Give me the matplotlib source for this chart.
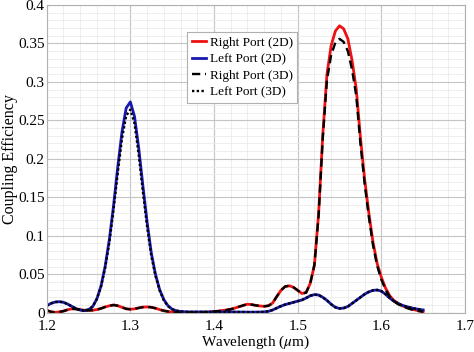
import matplotlib
matplotlib.use("Agg")
import matplotlib.pyplot as plt
from matplotlib.ticker import MultipleLocator, FuncFormatter
import numpy as np

# wavelength grid (um), 0.005 steps from 1.20 to 1.65
wavelength = np.round(np.arange(1.2, 1.6501, 0.005), 3)

right_2d = [0.003, 0.0012, 0.0005, 0.001, 0.002, 0.0038, 0.005, 0.0048, 0.004, 0.0032,
            0.003, 0.0032, 0.004, 0.0055, 0.0075, 0.009, 0.010, 0.009, 0.007, 0.005,
            0.0045, 0.005, 0.0062, 0.0072, 0.0075, 0.007, 0.0058, 0.004, 0.0025, 0.0015,
            0.0008, 0.0004, 0.0002, 0.0001, 0.0001, 0.0001, 0.0002, 0.0003, 0.0005, 0.0009,
            0.0015, 0.002, 0.0028, 0.0035, 0.0045, 0.006, 0.0078, 0.0095, 0.011, 0.0105,
            0.0095, 0.0087, 0.0083, 0.009, 0.0125, 0.021, 0.029, 0.034, 0.035, 0.033,
            0.029, 0.025, 0.026, 0.038, 0.062, 0.128, 0.231, 0.31, 0.347, 0.366,
            0.373, 0.369, 0.356, 0.328, 0.291, 0.228, 0.174, 0.13, 0.092, 0.064,
            0.046, 0.032, 0.022, 0.016, 0.012, 0.009, 0.0068, 0.005, 0.0036, 0.0024,
            0.0014]

left_2d = [0.009, 0.012, 0.0138, 0.0143, 0.0135, 0.0112, 0.0082, 0.0053, 0.0033, 0.0026,
           0.004, 0.008, 0.018, 0.035, 0.061, 0.096, 0.140, 0.190, 0.235, 0.266,
           0.274, 0.255, 0.214, 0.165, 0.118, 0.078, 0.050, 0.030, 0.017, 0.009,
           0.0045, 0.0025, 0.0016, 0.0012, 0.001, 0.001, 0.001, 0.001, 0.001, 0.001,
           0.001, 0.001, 0.001, 0.001, 0.001, 0.0009, 0.0008, 0.0008, 0.0007, 0.0007,
           0.0007, 0.0008, 0.001, 0.0018, 0.0035, 0.006, 0.0085, 0.0105, 0.012, 0.0135,
           0.015, 0.0165, 0.019, 0.022, 0.0235, 0.023, 0.020, 0.016, 0.011, 0.007,
           0.0055, 0.006, 0.008, 0.012, 0.016, 0.020, 0.024, 0.027, 0.029, 0.0295,
           0.028, 0.024, 0.019, 0.015, 0.012, 0.0095, 0.008, 0.0065, 0.0053, 0.0043,
           0.0035]

right_3d = [0.003, 0.0012, 0.0005, 0.001, 0.002, 0.0038, 0.005, 0.0048, 0.004, 0.0032,
            0.003, 0.0032, 0.004, 0.0055, 0.0075, 0.009, 0.010, 0.009, 0.007, 0.005,
            0.0045, 0.005, 0.0062, 0.0072, 0.0075, 0.007, 0.0058, 0.004, 0.0025, 0.0015,
            0.0008, 0.0004, 0.0002, 0.0001, 0.0001, 0.0001, 0.0002, 0.0003, 0.0005, 0.0009,
            0.0015, 0.002, 0.0028, 0.0035, 0.0045, 0.006, 0.0078, 0.0095, 0.011, 0.0105,
            0.0095, 0.0087, 0.0083, 0.009, 0.0125, 0.021, 0.029, 0.034, 0.035, 0.033,
            0.029, 0.025, 0.026, 0.038, 0.062, 0.126, 0.227, 0.302, 0.335, 0.351,
            0.356, 0.352, 0.340, 0.316, 0.282, 0.22, 0.168, 0.125, 0.088, 0.061,
            0.043, 0.030, 0.021, 0.015, 0.011, 0.0085, 0.0063, 0.0045, 0.003, 0.002,
            0.0011]

left_3d = [0.009, 0.012, 0.0138, 0.0143, 0.0135, 0.0112, 0.0082, 0.0053, 0.0033, 0.0026,
           0.004, 0.008, 0.018, 0.034, 0.059, 0.092, 0.135, 0.182, 0.226, 0.256,
           0.264, 0.246, 0.205, 0.157, 0.112, 0.074, 0.048, 0.029, 0.016, 0.0085,
           0.0045, 0.0025, 0.0016, 0.0012, 0.001, 0.001, 0.001, 0.001, 0.001, 0.001,
           0.001, 0.001, 0.001, 0.001, 0.001, 0.0009, 0.0008, 0.0008, 0.0007, 0.0007,
           0.0007, 0.0008, 0.001, 0.0018, 0.0035, 0.006, 0.0085, 0.0105, 0.012, 0.0135,
           0.015, 0.0165, 0.019, 0.022, 0.0235, 0.023, 0.020, 0.016, 0.011, 0.007,
           0.0055, 0.006, 0.008, 0.012, 0.016, 0.020, 0.024, 0.027, 0.029, 0.0295,
           0.028, 0.024, 0.019, 0.015, 0.012, 0.0095, 0.008, 0.0065, 0.0053, 0.0043,
           0.0035]

labels = ['Right Port (2D)', 'Left Port (2D)', 'Right Port (3D)', 'Left Port (3D)']

plt.rcParams['font.family'] = ['Liberation Serif', 'DejaVu Serif']
plt.rcParams['mathtext.fontset'] = 'stix'

fig = plt.figure(figsize=(4.74, 3.52), dpi=100)
ax = fig.add_axes([0.0985, 0.1117, 0.8825, 0.8741])

ax.plot(wavelength, right_2d, color='#ee1111', lw=2.0, label=labels[0])
ax.plot(wavelength, left_2d, color='#1818b0', lw=2.0, label=labels[1])
ax.plot(wavelength, right_3d, color='black', lw=1.7, ls=(0, (3.5, 2)), label=labels[2])
ax.plot(wavelength, left_3d, color='black', lw=1.7, ls=(0, (1, 1)), label=labels[3])

ax.set_xlim(1.2, 1.7)
ax.set_ylim(0, 0.4)
ax.xaxis.set_major_locator(MultipleLocator(0.1))
ax.xaxis.set_minor_locator(MultipleLocator(0.02))
ax.yaxis.set_major_locator(MultipleLocator(0.05))
ax.yaxis.set_minor_locator(MultipleLocator(0.01))
ax.yaxis.set_major_formatter(FuncFormatter(lambda v, p: '%g' % round(v, 3)))
ax.xaxis.set_major_formatter(FuncFormatter(lambda v, p: '%g' % round(v, 3)))

ax.grid(which='major', color='#c4c4c4', lw=0.8)
ax.grid(which='minor', color='#ebebeb', lw=0.6)
ax.set_axisbelow(True)
for s in ax.spines.values():
    s.set_color('#b0b0b0')
    s.set_linewidth(0.8)
ax.tick_params(which='both', direction='in', length=0)
ax.tick_params(axis='x', pad=5.5, labelsize=11)
ax.tick_params(axis='y', pad=1.5, labelsize=11)

ax.set_xlabel(r'Wavelength ($\mu$m)', fontsize=11)
ax.set_ylabel('Coupling Efficiency', fontsize=11.5)
ax.xaxis.set_label_coords(0.5, -0.069)
ax.yaxis.set_label_coords(-0.068, 0.5)

leg = ax.legend(loc='upper left', bbox_to_anchor=(0.336, 0.913), borderaxespad=0,
                fontsize=9.5, handlelength=1.1, handletextpad=0.25, labelspacing=0.33,
                borderpad=0.35, fancybox=False, framealpha=1, edgecolor='#b0b0b0')
leg.get_frame().set_linewidth(0.8)

fig.savefig('out.png', dpi=100)
